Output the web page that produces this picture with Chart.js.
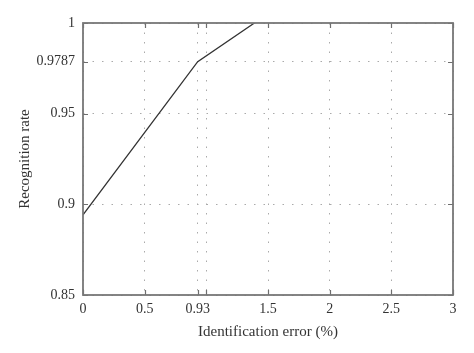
<!DOCTYPE html>
<html>
<head>
<meta charset="utf-8">
<script src="https://cdn.jsdelivr.net/npm/chart.js@4"></script>
<style>
  body { margin: 0; background: #fff; }
  canvas { display: block; }
</style>
</head>
<body>
<canvas id="myChart" width="474" height="353"></canvas>
<script>
// values
const errX = [0, 0.93, 1.39];
const rate = [0.8942, 0.9787, 1];
const xTicks = [0, 0.5, 0.93, 1, 1.5, 2, 2.5, 3];
const xHidden = [1];
const yTicks = [0.85, 0.9, 0.95, 0.9787, 1];

const points = errX.map((x, i) => ({ x: x, y: rate[i] }));

const fontTick = { family: "'Liberation Serif', 'DejaVu Serif', serif", size: 14 };
const fontTitle = { family: "'Liberation Serif', 'DejaVu Serif', serif", size: 15 };

// frame and inward ticks, like the original plot box
const boxPlugin = {
  id: 'box',
  afterDatasetsDraw(chart) {
    const ctx = chart.ctx;
    const a = chart.chartArea;
    const xs = chart.scales.x;
    const ys = chart.scales.y;
    ctx.save();
    ctx.strokeStyle = '#6e6e6e';
    ctx.lineWidth = 1.2;
    xTicks.forEach((v) => {
      const px = Math.round(xs.getPixelForValue(v)) + 0.5;
      ctx.beginPath();
      ctx.moveTo(px, a.bottom); ctx.lineTo(px, a.bottom - 5);
      ctx.moveTo(px, a.top); ctx.lineTo(px, a.top + 5);
      ctx.stroke();
    });
    yTicks.forEach((v) => {
      const py = Math.round(ys.getPixelForValue(v)) + 0.5;
      ctx.beginPath();
      ctx.moveTo(a.left, py); ctx.lineTo(a.left + 5, py);
      ctx.moveTo(a.right, py); ctx.lineTo(a.right - 5, py);
      ctx.stroke();
    });
    ctx.lineWidth = 1.8;
    ctx.strokeStyle = '#777';
    ctx.strokeRect(a.left, a.top, a.right - a.left, a.bottom - a.top);
    ctx.restore();
  }
};

const config = {
  type: 'scatter',
  data: {
    datasets: [{
      data: points,
      showLine: true,
      borderColor: '#333',
      borderWidth: 1.3,
      pointRadius: 0,
      tension: 0
    }]
  },
  options: {
    responsive: false,
    animation: false,
    layout: { padding: { left: 0, top: 23, right: 21, bottom: 0 } },
    plugins: { legend: { display: false }, tooltip: { enabled: false } },
    scales: {
      x: {
        type: 'linear',
        min: 0,
        max: 3,
        afterBuildTicks: (scale) => { scale.ticks = xTicks.map((v) => ({ value: v })); },
        afterFit: (scale) => { scale.height = 58; },
        border: { display: false, dash: [1.5, 8] },
        grid: { color: '#aaa', lineWidth: 1, drawTicks: false },
        ticks: {
          autoSkip: false,
          maxRotation: 0,
          padding: 6,
          color: '#333',
          font: fontTick,
          callback: (v) => (xHidden.includes(v) ? '' : String(v))
        },
        title: {
          display: true,
          text: 'Identification error (%)',
          color: '#333',
          font: fontTitle,
          padding: { top: 0, bottom: 12 }
        }
      },
      y: {
        type: 'linear',
        min: 0.85,
        max: 1,
        afterBuildTicks: (scale) => { scale.ticks = yTicks.map((v) => ({ value: v })); },
        afterFit: (scale) => { scale.width = 83; },
        border: { display: false, dash: [1.5, 8] },
        grid: { color: '#aaa', lineWidth: 1, drawTicks: false },
        ticks: {
          autoSkip: false,
          padding: 8,
          color: '#333',
          font: fontTick,
          callback: (v) => String(v)
        },
        title: {
          display: true,
          text: 'Recognition rate',
          color: '#333',
          font: fontTitle,
          padding: { top: 16, bottom: 0 }
        }
      }
    }
  },
  plugins: [boxPlugin]
};

const myChart = new Chart(document.getElementById('myChart'), config);
</script>
</body>
</html>
